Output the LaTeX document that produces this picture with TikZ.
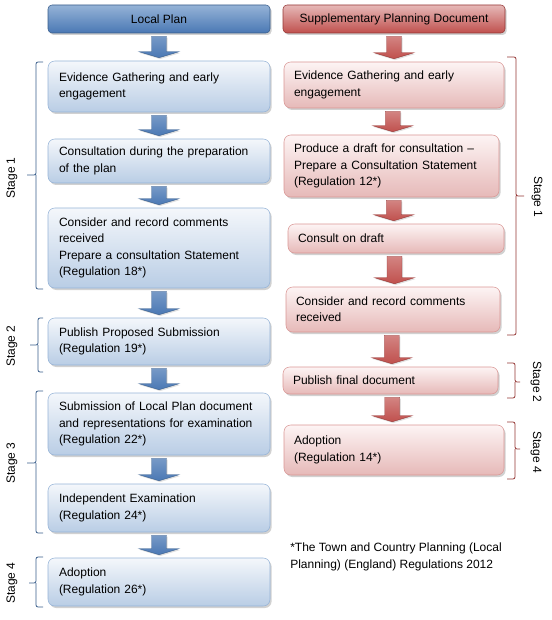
\documentclass[tikz,border=0pt]{standalone}
\usepackage{fontspec}
\setmainfont{Liberation Sans}
\usetikzlibrary{calc,shadows}

\definecolor{lpdark}{HTML}{385D8A}
\definecolor{lpmid}{HTML}{4A78B4}
\definecolor{lplight}{HTML}{B9CDE5}
\definecolor{lpedge}{HTML}{95B3D7}
\definecolor{lppale}{HTML}{F4F7FB}
\definecolor{spddark}{HTML}{943634}
\definecolor{spdmid}{HTML}{C0504D}
\definecolor{spdlight}{HTML}{E6B9B8}
\definecolor{spdedge}{HTML}{D99694}
\definecolor{spdpale}{HTML}{FDF4F4}

\newcommand{\flowarrow}[3]{%
  \path[#1] let \p1=(#2.south), \p2=(#3.north), \p3=($(\p1)!0.5!(\p2)$) in
    (\x3-5.6pt,\y1-2.25pt) -- (\x3+5.6pt,\y1-2.25pt) -- (\x3+5.6pt,\y2+6.75pt)
    -- (\x3+15pt,\y2+6.75pt) -- (\x3,\y2+2.25pt) -- (\x3-15pt,\y2+6.75pt)
    -- (\x3-5.6pt,\y2+6.75pt) -- cycle;}

\tikzset{
  every node/.style={font=\fontsize{9}{12.3}\selectfont},
  boxshadow/.style={drop shadow={shadow xshift=1.2pt, shadow yshift=-1.5pt, opacity=0.3, fill=black!60}},
  lphead/.style={draw=lpdark, top color=lpedge, bottom color=lpmid, rounded corners=3pt,
    minimum width=166.5pt, minimum height=21pt, boxshadow},
  spdhead/.style={draw=spddark, top color=spdlight, bottom color=spdmid, rounded corners=3pt,
    minimum width=166.5pt, minimum height=21pt, boxshadow},
  lpbox/.style={draw=lpedge, top color=lppale, bottom color=lplight, rounded corners=5pt,
    text width=150pt, inner xsep=8.25pt, align=left, minimum height=#1*0.75pt, boxshadow},
  spdbox/.style 2 args={draw=spdedge, top color=spdpale, bottom color=spdlight, rounded corners=5pt,
    text width=#2, inner xsep=7.5pt, align=left, minimum height=#1*0.75pt, boxshadow},
  lparrow/.style={draw=lpdark, line width=0.3pt, top color=lpmid!75, bottom color=lpmid,
    drop shadow={shadow xshift=0.8pt, shadow yshift=-1pt, opacity=0.25}},
  spdarrow/.style={draw=spddark, line width=0.3pt, top color=spdmid!70, bottom color=spdmid,
    drop shadow={shadow xshift=0.8pt, shadow yshift=-1pt, opacity=0.25}},
  lpbrace/.style={draw=lpdark, line width=0.6pt, rounded corners=1.5pt},
  spdbrace/.style={draw=spddark, line width=0.6pt, rounded corners=1.5pt}
}

\begin{document}
\begin{tikzpicture}[x=0.75pt,y=-0.75pt]
\useasboundingbox (0,0) rectangle (552,620);

\node[lphead] (lphd) at (159,19) {Local Plan};
\node[lpbox=51] (lp1) at (159,86.5) {Evidence Gathering and early\\engagement};
\node[lpbox=44] (lp2) at (159,161) {Consultation during the preparation\\of the plan};
\node[lpbox=80] (lp3) at (159,248) {Consider and record comments\\received\\Prepare a consultation Statement\\(Regulation 18*)};
\node[lpbox=47] (lp4) at (159,341.5) {Publish Proposed Submission\\(Regulation 19*)};
\node[lpbox=62] (lp5) at (159,424) {Submission of Local Plan document\\and representations for examination\\(Regulation 22*)};
\node[lpbox=48] (lp6) at (159,508) {Independent Examination\\(Regulation 24*)};
\node[lpbox=48] (lp7) at (159,582) {Adoption\\(Regulation 26*)};

\node[spdhead] (spdhd) at (394,19) {Supplementary Planning Document};
\node[spdbox={46}{150pt}] (spd1) at (394,85) {Evidence Gathering and early\\engagement};
\node[spdbox={62}{146.25pt}] (spd2) at (391.5,166) {Produce a draft for consultation --\\Prepare a Consultation Statement\\(Regulation 12*)};
\node[spdbox={29}{147pt}] (spd3) at (396,238.5) {Consult on draft};
\node[spdbox={45}{145.5pt}] (spd4) at (393,309.5) {Consider and record comments\\received};
\node[spdbox={27}{146.25pt}] (spd5) at (390.5,380.5) {Publish final document};
\node[spdbox={50}{150pt}] (spd6) at (394,450) {Adoption\\(Regulation 14*)};

\flowarrow{lparrow}{lphd}{lp1}
\flowarrow{lparrow}{lp1}{lp2}
\flowarrow{lparrow}{lp2}{lp3}
\flowarrow{lparrow}{lp3}{lp4}
\flowarrow{lparrow}{lp4}{lp5}
\flowarrow{lparrow}{lp5}{lp6}
\flowarrow{lparrow}{lp6}{lp7}

\flowarrow{spdarrow}{spdhd}{spd1}
\flowarrow{spdarrow}{spd1}{spd2}
\flowarrow{spdarrow}{spd2}{spd3}
\flowarrow{spdarrow}{spd3}{spd4}
\flowarrow{spdarrow}{spd4}{spd5}
\flowarrow{spdarrow}{spd5}{spd6}

% stages
\draw[lpbrace] (43,62) -| (36,175) -- (27,175) (36,175) |- (43,289);
\draw[lpbrace] (43,318) -| (38,345) -- (30,345) (38,345) |- (43,372);
\draw[lpbrace] (43,391) -| (36,463) -- (27,463) (36,463) |- (43,533);
\draw[lpbrace] (43,557) -| (36,583) -- (29,583) (36,583) |- (43,607);
\node[rotate=90] (lpst1) at (12,178) {Stage 1};
\node[rotate=90] (lpst2) at (12,346) {Stage 2};
\node[rotate=90] (lpst3) at (12,463) {Stage 3};
\node[rotate=90] (lpst4) at (12,583) {Stage 4};

\draw[spdbrace] (507,57) -| (516,196) -- (524,196) (516,196) |- (507,335);
\draw[spdbrace] (507,363) -| (515,382) -- (520,382) (515,382) |- (507,398);
\draw[spdbrace] (507,422) -| (515,449) -- (520,449) (515,449) |- (507,479);
\node[rotate=-90] (spdst1) at (537,197) {Stage 1};
\node[rotate=-90] (spdst2) at (536,382) {Stage 2};
\node[rotate=-90] (spdst4) at (536,452) {Stage 4};

\node[anchor=north west, inner sep=0pt, align=left] (regs) at (290,543)
  {*The Town and Country Planning (Local\\Planning) (England) Regulations 2012};
\end{tikzpicture}
\end{document}
